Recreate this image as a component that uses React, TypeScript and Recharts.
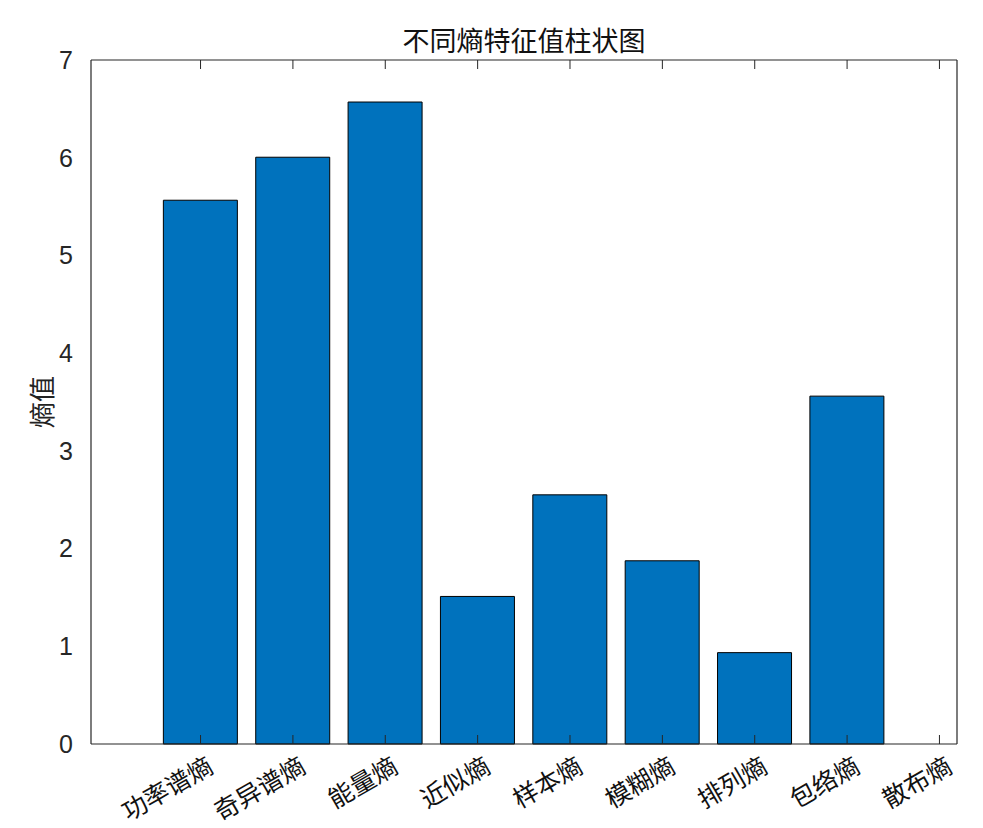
import { BarChart, Bar, XAxis, YAxis } from 'recharts'

const categories = ['功率谱熵', '奇异谱熵', '能量熵', '近似熵', '样本熵', '模糊熵', '排列熵', '包络熵', '散布熵']
const entropyValues = [5.565, 6.005, 6.57, 1.51, 2.55, 1.875, 0.935, 3.56, 0]
const yTicks = [0, 1, 2, 3, 4, 5, 6, 7]
const xTicks = [1, 2, 3, 4, 5, 6, 7, 8, 9]

const data = categories.map((name, i) => ({ pos: i + 1, name, value: entropyValues[i] }))

const cjk = '"Noto Sans CJK SC", "Noto Sans", sans-serif'
const num = '"Liberation Sans", Arial, sans-serif'
const xDomain = [-0.186, 9.19]
const axisColor = '#262626'

function CatTick({ x, y, payload }: any) {
  const label = categories[payload.value - 1] ?? ''
  const ax = x + 9
  const ay = y + 10
  return (
    <text
      x={ax}
      y={ay}
      transform={`rotate(-30, ${ax}, ${ay})`}
      textAnchor="end"
      dominantBaseline="central"
      fontFamily={cjk}
      fontSize={25}
      fill="#111"
    >
      {label}
    </text>
  )
}

// tick lines only, no label
const NoLabel = () => <g />

export default function App() {
  return (
    <div style={{ position: 'relative', width: 983, height: 828, background: '#fff' }}>
      <style>{'body{margin:0}'}</style>
      <div
        style={{
          position: 'absolute', left: 91, width: 866, top: 22, textAlign: 'center',
          fontFamily: cjk, fontSize: 27, color: '#111', lineHeight: '36px',
        }}
      >
        不同熵特征值柱状图
      </div>
      <div
        style={{
          position: 'absolute', left: 40, top: 402, transform: 'translate(-50%, -50%) rotate(-90deg)',
          fontFamily: cjk, fontSize: 26, color: '#222', whiteSpace: 'nowrap',
        }}
      >
        熵值
      </div>
      <BarChart width={983} height={828} data={data} margin={{ top: 60, right: 26, bottom: 0, left: 0 }}>
        <XAxis
          dataKey="pos" type="number" domain={xDomain} ticks={xTicks} interval={0} allowDataOverflow
          height={84} tick={<CatTick />} tickLine={false} axisLine={{ stroke: axisColor, strokeWidth: 1.2 }}
        />
        <XAxis
          xAxisId="top" orientation="top" dataKey="pos" type="number" domain={xDomain} ticks={xTicks} interval={0}
          allowDataOverflow mirror height={1} tick={NoLabel} tickSize={9}
          tickLine={{ stroke: axisColor }} axisLine={{ stroke: axisColor, strokeWidth: 1.2 }}
        />
        <XAxis
          xAxisId="bot" dataKey="pos" type="number" domain={xDomain} ticks={xTicks} interval={0}
          allowDataOverflow mirror height={1} tick={NoLabel} tickSize={9}
          tickLine={{ stroke: axisColor }} axisLine={false}
        />
        <YAxis
          domain={[0, 7]} ticks={yTicks} width={91} tickLine={false} tickMargin={12}
          axisLine={{ stroke: axisColor, strokeWidth: 1.2 }}
          tick={{ fontFamily: num, fontSize: 25, fill: axisColor }}
        />
        <YAxis
          yAxisId="left" domain={[0, 7]} ticks={yTicks} mirror width={1} tick={NoLabel} tickSize={9}
          tickLine={{ stroke: axisColor }} axisLine={false}
        />
        <YAxis
          yAxisId="right" orientation="right" domain={[0, 7]} ticks={yTicks} mirror width={1} tick={NoLabel}
          tickSize={9} tickLine={{ stroke: axisColor }} axisLine={{ stroke: axisColor, strokeWidth: 1.2 }}
        />
        <Bar dataKey="value" fill="#0072BD" stroke="#000" strokeWidth={1} barSize={74} isAnimationActive={false} />
      </BarChart>
    </div>
  )
}
